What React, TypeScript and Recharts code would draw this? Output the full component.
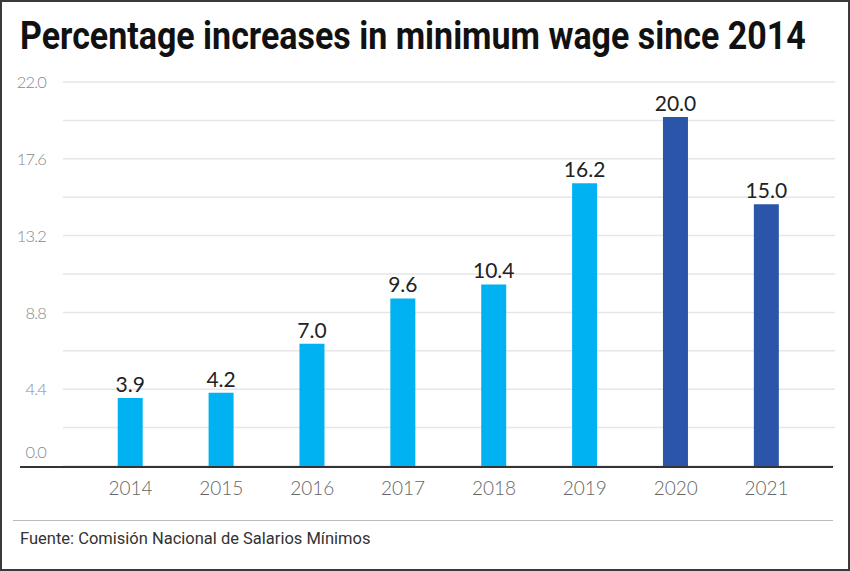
import React from 'react';
import { BarChart, Bar, XAxis, YAxis, CartesianGrid, Cell, LabelList } from 'recharts';

const years = ['2014', '2015', '2016', '2017', '2018', '2019', '2020', '2021'];
const increases = [3.9, 4.2, 7.0, 9.6, 10.4, 16.2, 20.0, 15.0];
const barColors = ['#00B2F2', '#00B2F2', '#00B2F2', '#00B2F2', '#00B2F2', '#00B2F2', '#2A55A8', '#2A55A8'];
const yTicks = [0, 2.2, 4.4, 6.6, 8.8, 11, 13.2, 15.4, 17.6, 19.8, 22];
const labeledTicks = [0, 4.4, 8.8, 13.2, 17.6, 22];

const data = years.map((y, i) => ({ year: y, value: increases[i] }));

const thin = 'Lato, "Open Sans", sans-serif';

function YTick(props: any) {
  const { x, y, payload } = props;
  const v = payload.value as number;
  if (!labeledTicks.some((t) => Math.abs(t - v) < 1e-6)) return null;
  const shift = v === 0 ? -12 : 2;
  return (
    <text
      x={x}
      y={y + shift}
      textAnchor="end"
      dominantBaseline="middle"
      fill="#888"
      fontSize={16.5}
      fontFamily={thin}
      fontWeight={300}
      letterSpacing={-0.8}
    >
      {v.toFixed(1)}
    </text>
  );
}

export default function App() {
  return (
    <div
      style={{
        position: 'fixed',
        left: 0,
        top: 0,
        width: 850,
        height: 571,
        boxSizing: 'border-box',
        border: '2px solid #3a3a3a',
        background: '#fff',
        overflow: 'hidden',
      }}
    >
      <div
        style={{
          position: 'absolute',
          left: 18,
          top: 12,
          fontFamily: 'Roboto, sans-serif',
          fontWeight: 700,
          fontSize: 38,
          color: '#111',
          whiteSpace: 'nowrap',
          transform: 'scaleX(0.894)',
          transformOrigin: 'left top',
        }}
      >
        Percentage increases in minimum wage since 2014
      </div>
      <div style={{ position: 'absolute', left: -2, top: -2 }}>
        <BarChart
          width={850}
          height={571}
          data={data}
          margin={{ top: 82, right: 15, bottom: 65, left: 13 }}
          barCategoryGap="36%"
        >
          <CartesianGrid vertical={false} stroke="#e6e6e6" strokeWidth={1.5} />
          <XAxis
            dataKey="year"
            axisLine={false}
            tickLine={false}
            height={40}
            tickMargin={10}
            padding={{ left: 22, right: 23 }}
            tick={{ fill: '#666', fontSize: 19, fontFamily: thin, fontWeight: 300 }}
            interval={0}
          />
          <YAxis
            domain={[0, 22]}
            ticks={yTicks}
            interval={0}
            axisLine={false}
            tickLine={false}
            width={50}
            tickSize={6}
            tickMargin={11}
            tick={<YTick />}
          />
          <Bar dataKey="value" isAnimationActive={false}>
            {data.map((d, i) => (
              <Cell key={d.year} fill={barColors[i]} />
            ))}
            <LabelList
              dataKey="value"
              position="top"
              offset={6}
              formatter={(v: number) => v.toFixed(1)}
              style={{ fill: '#222', fontSize: 21, fontFamily: thin, fontWeight: 400 }}
            />
          </Bar>
        </BarChart>
      </div>
      <div
        style={{
          position: 'absolute',
          left: 18,
          top: 464,
          width: 813,
          height: 0,
          borderTop: '2.5px solid #333',
        }}
      />
      <div
        style={{
          position: 'absolute',
          left: 11,
          top: 518,
          width: 820,
          height: 0,
          borderTop: '1.5px solid #bbb',
        }}
      />
      <div
        style={{
          position: 'absolute',
          left: 18,
          top: 527,
          fontFamily: 'Roboto, sans-serif',
          fontSize: 16.5,
          color: '#333',
          whiteSpace: 'nowrap',
        }}
      >
        Fuente: Comisión Nacional de Salarios Mínimos
      </div>
    </div>
  );
}
